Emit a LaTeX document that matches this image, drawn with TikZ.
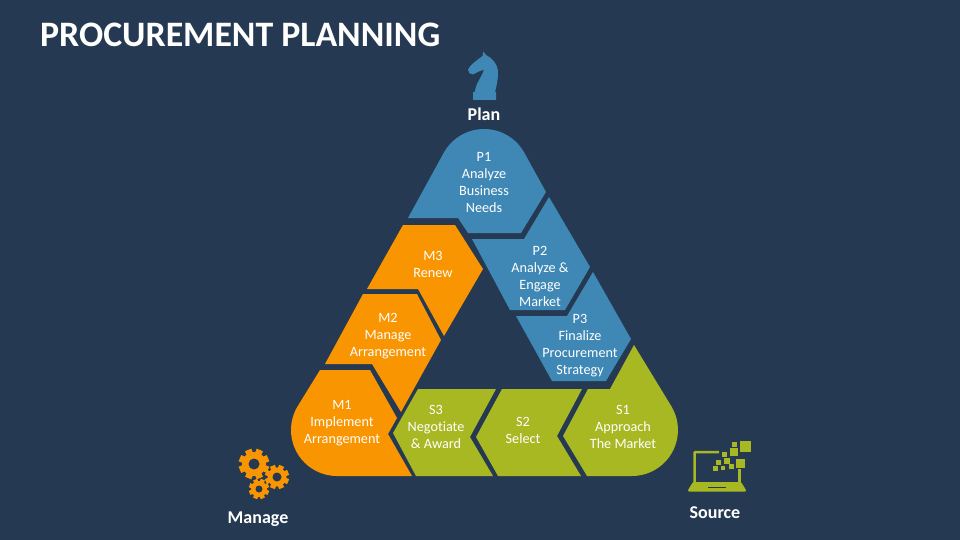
\documentclass[tikz,border=0pt]{standalone}
\usepackage{fontspec}
\setmainfont[Ligatures=CommonOff]{Carlito}
\usepackage{tikz}
\usetikzlibrary{positioning}
\definecolor{bgnavy}{HTML}{253A52}
\definecolor{planblue}{HTML}{3F88B5}
\definecolor{manageorange}{HTML}{F89500}
\definecolor{sourcegreen}{HTML}{A8B822}
\tikzset{
    seglabel/.style={align=center, text=white, font=\fontsize{14.2}{17}\selectfont, inner sep=0pt},
    iconlabel/.style={text=white, font=\fontsize{18}{20}\selectfont\bfseries, inner sep=0pt},
}
\begin{document}
\begin{tikzpicture}[x=1pt, y=-1pt]
\useasboundingbox (0,0) rectangle (960,540);
\fill[bgnavy] (0,0) rectangle (960,540);

% Title
\node[anchor=west, text=white, inner sep=0pt, font=\fontsize{35.8}{40}\selectfont\bfseries] (title) at (40,35) {PROCUREMENT PLANNING};

% Plan segments
\fill[planblue] (408,218) -- (444.2,152) arc[start angle=210, end angle=330, radius=46] -- (546,192) -- (521,233) -- (468,233) -- (458,218) -- cycle;
\fill[planblue] (472,239) -- (524,239) -- (549,197) -- (590,267) -- (565,310) -- (510,310) -- cycle;
\fill[planblue] (516,316) -- (567,316) -- (593,272) -- (631,339) -- (606,381) -- (552,381) -- cycle;

% Source segments
\fill[sourcegreen] (634,345) -- (671.8,407) arc[start angle=-30, end angle=90, radius=46] -- (587,476) -- (563,436) -- (588,389) -- (610,389) -- cycle;
\fill[sourcegreen] (502,389) -- (582,389) -- (557,436) -- (581,476) -- (498,476) -- (476,437) -- cycle;
\fill[sourcegreen] (418,389) -- (496,389) -- (470,437) -- (493,476) -- (416,476) -- (393,433) -- cycle;

% Manage segments
\fill[manageorange] (320,370) -- (370,370) -- (397,418) -- (388,434) -- (412,476) -- (337,476) arc[start angle=90, end angle=210, radius=46] -- cycle;
\fill[manageorange] (363,294) -- (417,294) -- (441,340) -- (401,412) -- (372,364) -- (325,364) -- cycle;
\fill[manageorange] (403,225) -- (455,225) -- (483,269) -- (444,336) -- (418,289) -- (367,289) -- cycle;

% Segment labels
\node[seglabel] (p1) at (484,182) {P1\\Analyze\\Business\\Needs};
\node[seglabel] (p2) at (540,276) {P2\\Analyze \&\\Engage\\Market};
\node[seglabel] (p3) at (580,346) {P3\\Finalize\\Procurement\\Strategy};
\node[seglabel] (s1) at (623,427) {S1\\Approach\\The Market};
\node[seglabel] (s2) at (523,430) {S2\\Select};
\node[seglabel] (s3) at (436,427) {S3\\Negotiate\\\& Award};
\node[seglabel] (m1) at (342,423) {M1\\Implement\\Arrangement};
\node[seglabel] (m2) at (388,336) {M2\\Manage\\Arrangement};
\node[seglabel] (m3) at (433,264) {M3\\Renew};

% Knight
\fill[planblue] (483.3,51.7) -- (486,55) .. controls (492,58) and (498,64) .. (498,73)
    .. controls (498,80) and (496.5,86) .. (495,92) -- (496,92) -- (496,100) -- (473,100) -- (473,92) -- (475,92)
    .. controls (475,85) and (481,78) .. (484,70) .. controls (480,70) and (476,73.5) .. (472.5,74.5)
    .. controls (470,74.5) and (468,72) .. (468,69.5) .. controls (470,65) and (476,61) .. (482.5,56) -- cycle;
\node[iconlabel] (plan) at (484,114) {Plan};

% Gears
\foreach \cx/\cy/\rad/\hole in {254/464/12/5.5, 277/477/9.5/4.5, 259/489/8/3.5} {
    \foreach \a in {0,45,...,315} {
        \fill[manageorange, shift={(\cx,\cy)}, rotate=\a+22.5] (-0.28*\rad,0) rectangle (0.28*\rad,-1.27*\rad);
    }
    \fill[manageorange] (\cx,\cy) circle[radius=\rad];
    \fill[bgnavy] (\cx,\cy) circle[radius=\hole];
}
\node[iconlabel] (manage) at (258,519) {Manage};

% Laptop
\draw[sourcegreen, line width=2.5pt, rounded corners=1pt] (694.5,484) -- (694.5,452) -- (719,452);
\draw[sourcegreen, line width=2.5pt] (739.5,469) -- (739.5,484);
\fill[sourcegreen, rounded corners=1pt] (693,482) -- (741,482) -- (746,490) -- (746,491.5) -- (688,491.5) -- (688,490) -- cycle;
\fill[bgnavy] (708,486.5) rectangle (726,488);
\foreach \sx/\sy/\side in {745.7/446.7/11.5, 734/452/8, 734.3/444.3/5, 724.3/454.3/5, 740.3/463.3/9, 727/460.7/6, 731.7/466.7/5, 718.3/462.3/5, 722.7/467.7/4, 715.3/468.3/5} {
    \fill[sourcegreen] (\sx-\side/2,\sy-\side/2) rectangle (\sx+\side/2,\sy+\side/2);
}
\node[iconlabel] (source) at (715,513) {Source};
\end{tikzpicture}
\end{document}
